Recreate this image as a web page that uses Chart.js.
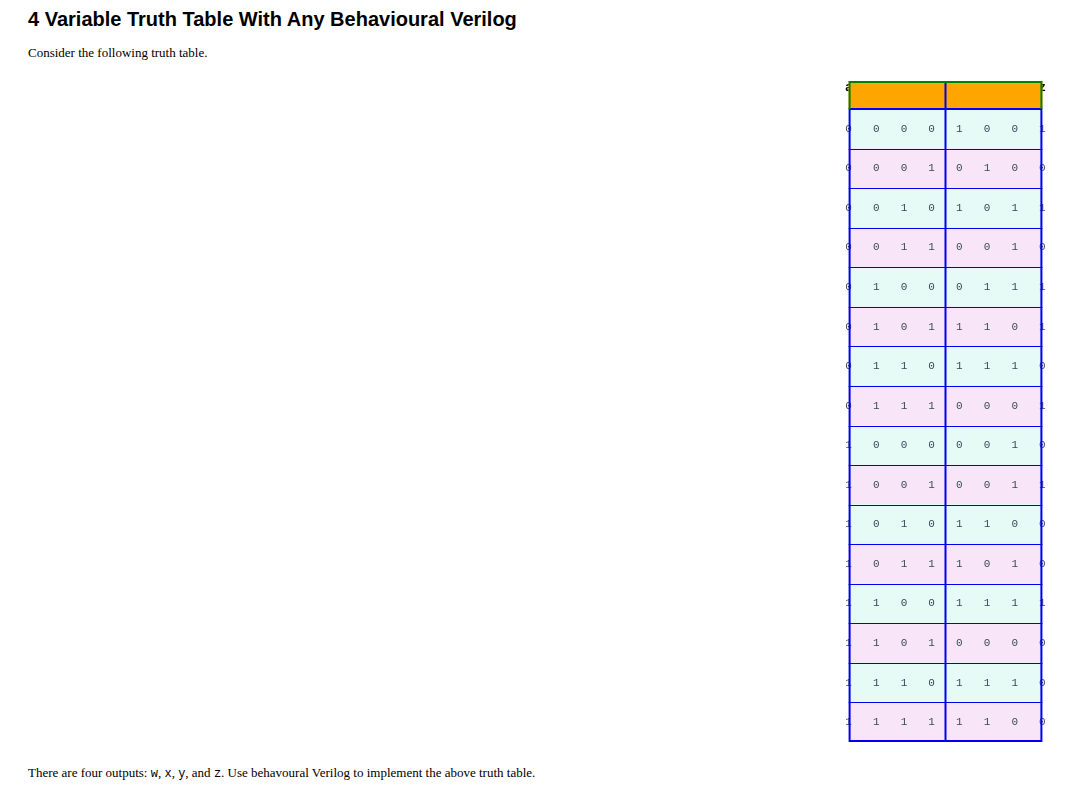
<!DOCTYPE html>
<html>
<head>
<meta charset="utf-8">
<script src="https://cdn.jsdelivr.net/npm/chart.js@4"></script>
<style>
  body { margin: 0; background: #fff; font-family: "Liberation Serif", serif; }
  h1 { position: absolute; left: 28px; top: 8px; margin: 0; font: bold 20px "Liberation Sans", Arial, sans-serif; color: #000; }
  .p1 { position: absolute; left: 28px; top: 45px; font-size: 13px; margin: 0; }
  .p2 { position: absolute; left: 28px; top: 765px; font-size: 13px; margin: 0; }
  code { font-family: "Liberation Mono", monospace; font-size: 12px; }
  #wrap { position: absolute; left: 839px; top: 81px; width: 213px; height: 661px; }
</style>
</head>
<body>
<h1>4 Variable Truth Table With Any Behavioural Verilog</h1>
<p class="p1">Consider the following truth table.</p>
<div id="wrap"><canvas id="tt"></canvas></div>
<p class="p2">There are four outputs: <code>w</code>, <code>x</code>, <code>y</code>, and <code>z</code>. Use behavoural Verilog to implement the above truth table.</p>
<script>
const columns = ["a", "b", "c", "d", "w", "x", "y", "z"];
const inputs = ["0000","0001","0010","0011","0100","0101","0110","0111",
                "1000","1001","1010","1011","1100","1101","1110","1111"];
const outputs = ["1001","0100","1011","0010","0111","1101","1110","0001",
                 "0010","0011","1100","1010","1111","0000","1110","1100"];
const rowLabels = inputs.map((v, i) => "r" + i);
const rowColors = inputs.map((v, i) => i % 2 === 0 ? "#e6faf6" : "#f8e6f8");

const tablePlugin = {
  id: "tablePlugin",
  beforeDatasetsDraw(chart) {
    const ctx = chart.ctx, xc = chart.scales.xc;
    ctx.save();
    ctx.fillStyle = "#ffa500";
    ctx.fillRect(xc.left, xc.top, xc.right - xc.left, xc.bottom - xc.top);
    ctx.restore();
  },
  afterDatasetsDraw(chart) {
    const ctx = chart.ctx, xc = chart.scales.xc, y = chart.scales.y;
    ctx.save();
    ctx.font = "11px 'Liberation Mono', monospace";
    ctx.textAlign = "center";
    ctx.textBaseline = "middle";
    inputs.forEach((inp, r) => {
      const bits = inp + outputs[r];
      const py = y.getPixelForValue(r);
      for (let c = 0; c < 8; c++) {
        ctx.fillStyle = "#3a4a5a";
        ctx.fillText(bits[c], xc.getPixelForTick(c), py);
      }
      const bottom = py + (y.getPixelForValue(1) - y.getPixelForValue(0)) / 2;
      ctx.strokeStyle = "#0000ee";
      ctx.lineWidth = 1;
      ctx.beginPath();
      ctx.moveTo(xc.left, Math.round(bottom) + 0.5);
      ctx.lineTo(xc.right, Math.round(bottom) + 0.5);
      ctx.stroke();
    });
    const mid = (xc.getPixelForTick(3) + xc.getPixelForTick(4)) / 2;
    ctx.strokeStyle = "#0000ee";
    ctx.lineWidth = 2;
    ctx.beginPath();
    ctx.moveTo(mid, xc.top); ctx.lineTo(mid, y.bottom);
    ctx.stroke();
    ctx.strokeRect(xc.left + 1, xc.bottom, xc.right - xc.left - 2, y.bottom - xc.bottom - 1);
    ctx.strokeStyle = "#008000";
    ctx.beginPath();
    ctx.moveTo(xc.left, xc.top + 1); ctx.lineTo(xc.right, xc.top + 1);
    ctx.moveTo(xc.left + 1, xc.top); ctx.lineTo(xc.left + 1, xc.bottom);
    ctx.moveTo(xc.right - 1, xc.top); ctx.lineTo(xc.right - 1, xc.bottom);
    ctx.stroke();
    ctx.restore();
  }
};

new Chart(document.getElementById("tt"), {
  type: "bar",
  data: {
    labels: rowLabels,
    datasets: [{
      data: inputs.map(() => 8),
      backgroundColor: rowColors,
      barPercentage: 1,
      categoryPercentage: 1,
      borderWidth: 0
    }]
  },
  options: {
    indexAxis: "y",
    responsive: true,
    maintainAspectRatio: false,
    animation: false,
    layout: { padding: 0 },
    plugins: { legend: { display: false }, tooltip: { enabled: false } },
    scales: {
      x: { type: "linear", min: 0, max: 8, display: false },
      xc: {
        type: "category", labels: columns, position: "top",
        grid: { display: false }, border: { display: false },
        ticks: { color: "#000", font: { family: "'Liberation Mono', monospace", size: 12, weight: "bold" }, padding: 6 },
        afterFit(scale) { scale.height = 28; }
      },
      y: { type: "category", display: false }
    }
  },
  plugins: [tablePlugin]
});
</script>
</body>
</html>
